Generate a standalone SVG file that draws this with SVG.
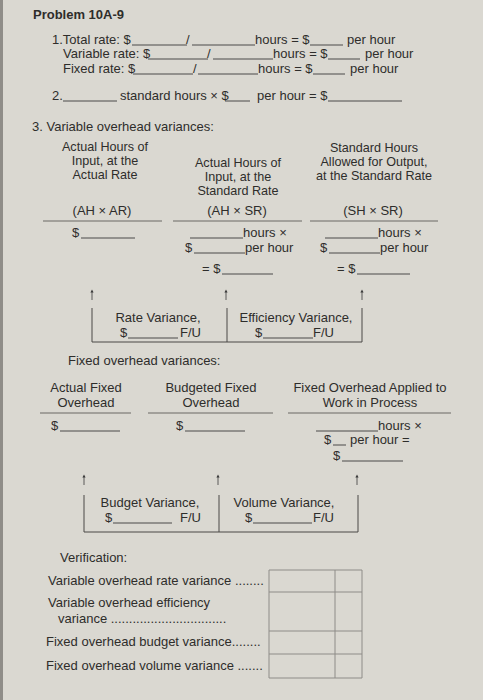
<svg xmlns="http://www.w3.org/2000/svg" width="483" height="700" viewBox="0 0 483 700">
<defs>
<marker id="ah" viewBox="0 0 6 6" refX="3" refY="3" markerWidth="4" markerHeight="4" orient="auto">
<path d="M0,0 L6,3 L0,6 z" fill="#3a3a3a"/>
</marker>
<style>
text{font-family:"Liberation Sans",Arial,sans-serif;font-size:13px;fill:#2e2d2b}
.b{font-weight:bold}
.m{text-anchor:middle}
.h{font-size:12.6px}
.u{stroke:#3a3a3a;stroke-width:0.9;fill:none}
.r{stroke:#6a6864;stroke-width:1;fill:none}
.br{stroke:#4a4946;stroke-width:1;fill:none}
.ar{stroke:#3a3a3a;stroke-width:0.8;fill:none;marker-end:url(#ah)}
.t{stroke:#8e8c88;stroke-width:1;fill:none}
</style>
</defs>
<rect width="483" height="700" fill="#dad8d1"/>
<rect width="3" height="700" fill="#8f8d88"/>

<g id="title"><text class="b" x="33" y="19">Problem 10A-9</text></g>

<g id="part1">
<text x="52" y="44">1.Total rate: $</text>
<text x="186" y="44">/</text>
<text x="255" y="44">hours = $</text>
<text x="347" y="44">per hour</text>
<text x="63" y="58">Variable rate: $</text>
<text x="207" y="58">/</text>
<text x="273" y="58">hours = $</text>
<text x="365" y="58">per hour</text>
<text x="63" y="73">Fixed rate: $</text>
<text x="193" y="73">/</text>
<text x="258" y="73">hours = $</text>
<text x="350" y="73">per hour</text>
<path class="u" d="M132,45H187M192,45H255M310,45H343M148,59H208M213,59H273M328,59H360M133,74H193M198,74H258M313,74H345"/>
</g>

<g id="part2">
<text x="52" y="100">2.</text>
<text x="120" y="100">standard hours × $</text>
<text x="257" y="100">per hour = $</text>
<path class="u" d="M63,101H117M225,101H250M328,101H402"/>
</g>

<g id="part3">
<text x="32" y="131">3. Variable overhead variances:</text>
<g id="col-ahar">
<text class="m h" x="105" y="151">Actual Hours of</text>
<text class="m h" x="105" y="165">Input, at the</text>
<text class="m h" x="105" y="179">Actual Rate</text>
<text class="m" x="102" y="215">(AH × AR)</text>
<path class="r" d="M43,221H162"/>
<text x="72" y="237">$</text>
<path class="u" d="M81,238H135"/>
</g>
<g id="col-ahsr">
<text class="m h" x="238" y="167">Actual Hours of</text>
<text class="m h" x="238" y="181">Input, at the</text>
<text class="m h" x="238" y="195">Standard Rate</text>
<text class="m" x="237" y="215">(AH × SR)</text>
<path class="r" d="M173,221H302"/>
<text x="243" y="237">hours ×</text>
<text x="185" y="252">$</text>
<text x="245" y="252">per hour</text>
<text x="202" y="273">= $</text>
<path class="u" d="M190,238H243M194,253H245M222,274H273"/>
</g>
<g id="col-shsr">
<text class="m h" x="374" y="152">Standard Hours</text>
<text class="m h" x="374" y="166">Allowed for Output,</text>
<text class="m h" x="374" y="180">at the Standard Rate</text>
<text class="m" x="373" y="215">(SH × SR)</text>
<path class="r" d="M310,221H438"/>
<text x="378" y="237">hours ×</text>
<text x="320" y="252">$</text>
<text x="380" y="252">per hour</text>
<text x="337" y="273">= $</text>
<path class="u" d="M325,238H378M329,253H380M357,274H410"/>
</g>
<g id="rate-variance">
<text class="m" x="158" y="322">Rate Variance,</text>
<text x="120" y="337">$</text>
<text x="180" y="337">F/U</text>
<path class="u" d="M128,338H178"/>
</g>
<g id="efficiency-variance">
<text class="m" x="296" y="322">Efficiency Variance,</text>
<text x="255" y="337">$</text>
<text x="313" y="337">F/U</text>
<path class="u" d="M263,338H313"/>
</g>
</g>

<g id="part-fixed">
<text x="68" y="365">Fixed overhead variances:</text>
<g id="col-afo">
<text class="m" x="86" y="392">Actual Fixed</text>
<text class="m" x="86" y="407">Overhead</text>
<path class="r" d="M40,413H131"/>
<text x="51" y="430">$</text>
<path class="u" d="M60,431H120"/>
</g>
<g id="col-bfo">
<text class="m" x="211" y="392">Budgeted Fixed</text>
<text class="m" x="211" y="407">Overhead</text>
<path class="r" d="M148,413H273"/>
<text x="176" y="430">$</text>
<path class="u" d="M185,431H245"/>
</g>
<g id="col-foa">
<text class="m" x="370" y="392">Fixed Overhead Applied to</text>
<text class="m" x="370" y="407">Work in Process</text>
<path class="r" d="M288,413H451"/>
<text x="378" y="430">hours ×</text>
<text x="324" y="444">$</text>
<text x="350" y="444">per hour =</text>
<text x="333" y="460">$</text>
<path class="u" d="M316,431H378M333,445H346M342,461H403"/>
</g>
<g id="budget-variance">
<text class="m" x="150" y="507">Budget Variance,</text>
<text x="105" y="522">$</text>
<text x="180" y="522">F/U</text>
<path class="u" d="M113,523H172"/>
</g>
<g id="volume-variance">
<text class="m" x="284" y="507">Volume Variance,</text>
<text x="245" y="522">$</text>
<text x="313" y="522">F/U</text>
<path class="u" d="M253,523H312"/>
</g>
</g>

<g id="connectors">
<path class="ar" d="M92,300V291"/>
<path class="ar" d="M226,300V291"/>
<path class="ar" d="M362,300V291"/>
<path class="br" d="M92,308V342H362V308M227,308V342"/>
<path class="ar" d="M84,485V476"/>
<path class="ar" d="M218,485V476"/>
<path class="ar" d="M357,485V476"/>
<path class="br" d="M84,495V532H358V495M219,495V532"/>
</g>

<g id="verification">
<text x="60" y="562">Verification:</text>
<text x="48" y="585">Variable overhead rate variance ........</text>
<text x="48" y="607">Variable overhead efficiency</text>
<text x="58" y="623">variance ................................</text>
<text x="46" y="646">Fixed overhead budget variance........</text>
<text x="46" y="670">Fixed overhead volume variance .......</text>
<path class="t" d="M269,570H362V678H269zM335,570V678M269,592H362M269,631H362M269,654H362"/>
</g>
</svg>
